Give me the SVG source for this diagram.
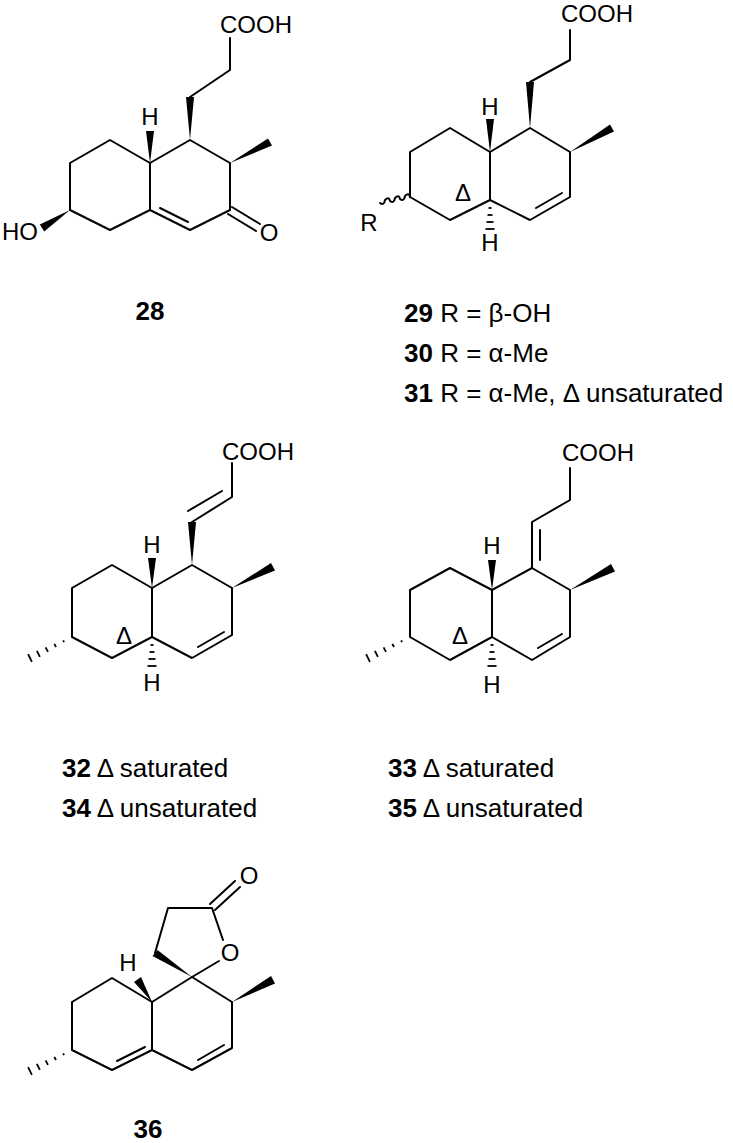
<svg xmlns="http://www.w3.org/2000/svg" width="733" height="1143" viewBox="0 0 733 1143">
<style>
.b{stroke:#000;stroke-width:2;fill:none;stroke-linejoin:round;stroke-linecap:round}
.h{stroke:#000;stroke-width:1.8;fill:none}
.w{fill:#000;stroke:none}
.a{font-family:"Liberation Sans",Arial,sans-serif;font-size:24px;fill:#000}
.l{font-family:"Liberation Sans",Arial,sans-serif;font-size:26px;fill:#000}
.n{font-weight:bold}
</style>
<defs>
<g id="hm"><line x1="63.2" y1="640.3" x2="64" y2="642.1"/><line x1="54.4" y1="643.8" x2="56" y2="647"/><line x1="45.6" y1="647.3" x2="48" y2="651.9"/><line x1="36.9" y1="650.8" x2="39.9" y2="656.8"/><line x1="28.1" y1="654.2" x2="31.9" y2="661.8"/></g>
<g id="hh"><line x1="-1.5" y1="8" x2="1.5" y2="8"/><line x1="-2.5" y1="15" x2="2.5" y2="15"/><line x1="-3.5" y1="22" x2="3.5" y2="22"/><line x1="-4.5" y1="29" x2="4.5" y2="29"/></g>
</defs>
<g id="connectors"></g>
<g id="c28">
<polyline class="b" points="150,163 110,140 70,163 70,210 110,230 150,210 150,163 190,140 230,163 230,210 190,230 150,210"/>
<line class="b" x1="160" y1="208" x2="188" y2="222"/>
<line class="b" x1="232" y1="207" x2="260" y2="224"/>
<line class="b" x1="228" y1="214" x2="256" y2="231"/>
<polyline class="b" points="190,97 230,70 230,38"/>
<polygon class="w" points="190,140 186,97 194,97"/>
<polygon class="w" points="230,163 268,138.4 272,145.6"/>
<polygon class="w" points="150,163 146,131 154,131"/>
<polygon class="w" points="70,210 39.8,224.6 44.2,231.4"/>
<text class="a" x="220" y="33">COOH</text>
<text class="a" x="150" y="125" text-anchor="middle">H</text>
<text class="a" x="269" y="241" text-anchor="middle">O</text>
<text class="a" x="2" y="240">HO</text>
<text class="l" x="150" y="320" text-anchor="middle"><tspan class="n">28</tspan></text>
</g>
<g id="c29">
<polyline class="b" points="490,152 450,128 410,152 410,197 450,220 490,200 490,152 530,128 570,152 570,197 530,220 490,200"/>
<line class="b" x1="562" y1="193" x2="536" y2="208"/>
<polyline class="b" points="530,82 570,60 570,30"/>
<polygon class="w" points="530,128 526,82 534,82"/>
<polygon class="w" points="570,152 610,124.5 614,131.5"/>
<polygon class="w" points="490,152 486,119 494,119"/>
<use href="#hh" class="h" x="490" y="200"/>
<path class="b" stroke-width="1.6" d="M410,197 q-1,-5 -5,-1 q-1,6 -5,3 q-1,-5 -5,-1 q-1,6 -5,3 q-1,-5 -5,-1 q-1,6 -5,3"/>
<text class="a" x="561" y="22">COOH</text>
<text class="a" x="490" y="115" text-anchor="middle">H</text>
<text class="a" x="490" y="251" text-anchor="middle">H</text>
<text class="a" x="369" y="231" text-anchor="middle">R</text>
<text class="a" x="463" y="201" text-anchor="middle">Δ</text>
<text class="l" x="404" y="322"><tspan class="n">29</tspan> R = β-OH</text>
<text class="l" x="404" y="362"><tspan class="n">30</tspan> R = α-Me</text>
<text class="l" x="404" y="402"><tspan class="n">31</tspan> R = α-Me, Δ unsaturated</text>
</g>
<g id="c32">
<polyline class="b" points="152,588 112,565 72,588 72,637 112,658 152,637 152,588 192,565 232,588 232,635 192,658 152,637"/>
<line class="b" x1="224" y1="632" x2="198" y2="647"/>
<polyline class="b" points="192,522 232,497 232,463"/>
<line class="b" x1="188" y1="511" x2="222" y2="491"/>
<polygon class="w" points="192,565 188,522 196,522"/>
<polygon class="w" points="232,588 271,563 275,570.5"/>
<polygon class="w" points="152,588 148,558 156,558"/>
<use href="#hh" class="h" x="152" y="637"/>
<use href="#hm" class="h"/>
<text class="a" x="222" y="460">COOH</text>
<text class="a" x="152" y="553" text-anchor="middle">H</text>
<text class="a" x="152" y="691" text-anchor="middle">H</text>
<text class="a" x="124" y="644" text-anchor="middle">Δ</text>
<text class="l" x="62" y="777"><tspan class="n">32</tspan> Δ saturated</text>
<text class="l" x="62" y="817"><tspan class="n">34</tspan> Δ unsaturated</text>
</g>
<g id="c33">
<polyline class="b" points="492,590 450,568 410,590 410,637 450,660 492,637 492,590 532,568 570,590 570,637 532,660 492,637"/>
<line class="b" x1="562" y1="634" x2="538" y2="648"/>
<polyline class="b" points="532,568 532,522 570,500 570,468"/>
<line class="b" x1="540" y1="530" x2="540" y2="560"/>
<polygon class="w" points="570,590 611,564 615,571.5"/>
<polygon class="w" points="492,590 488,560 496,560"/>
<use href="#hh" class="h" x="492" y="637"/>
<use href="#hm" class="h" x="338"/>
<text class="a" x="562" y="461">COOH</text>
<text class="a" x="492" y="554" text-anchor="middle">H</text>
<text class="a" x="492" y="693" text-anchor="middle">H</text>
<text class="a" x="460" y="644" text-anchor="middle">Δ</text>
<text class="l" x="388" y="777"><tspan class="n">33</tspan> Δ saturated</text>
<text class="l" x="388" y="817"><tspan class="n">35</tspan> Δ unsaturated</text>
</g>
<g id="c36">
<polyline class="b" points="152,1002 112,978 72,1002 72,1050 112,1070 152,1050 152,1002 192,977 232,1002 232,1048 192,1070 152,1050"/>
<line class="b" x1="117" y1="1061" x2="145" y2="1047"/>
<line class="b" x1="224" y1="1045" x2="198" y2="1060"/>
<line class="b" x1="192" y1="977" x2="219" y2="961"/>
<polyline class="b" points="223,940 212,908 168,908 155,953"/>
<line class="b" x1="210" y1="904" x2="235" y2="881"/>
<line class="b" x1="215" y1="910" x2="240" y2="887"/>
<polygon class="w" points="192,977 152.5,956 157.5,950"/>
<polygon class="w" points="232,1002 271,976 275,983.5"/>
<polygon class="w" points="152,1002 134,982 141,977"/>
<use href="#hm" class="h" y="413"/>
<text class="a" x="249" y="884" text-anchor="middle">O</text>
<text class="a" x="230" y="961" text-anchor="middle">O</text>
<text class="a" x="128" y="971" text-anchor="middle">H</text>
<text class="l" x="148" y="1138" text-anchor="middle"><tspan class="n">36</tspan></text>
</g>
</svg>
